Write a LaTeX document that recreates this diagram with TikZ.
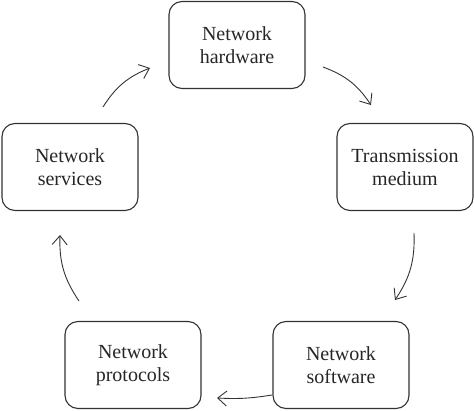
\documentclass[tikz,border=0pt]{standalone}
\usepackage{fontspec}
\setmainfont{Liberation Serif}
\usetikzlibrary{arrows.meta}

\begin{document}
\begin{tikzpicture}[x=1pt,y=1pt,
    blk/.style={draw=black!80, line width=1.1pt, rounded corners=13pt,
      minimum width=136pt, minimum height=87pt, align=center,
      font=\fontsize{20}{23}\selectfont, text=black!85},
    cyc/.style={draw=black!80, line width=0.9pt,
      -{Straight Barb[length=9pt,width=15pt,line width=0.9pt]}}]
    \useasboundingbox (0,0) rectangle (474,410);

    \node[blk] (hw) at (237,365) {Network\\hardware};
    \node[blk] (tm) at (405,243) {Transmission\\medium};
    \node[blk] (sw) at (341,45) {Network\\software};
    \node[blk] (pr) at (133,45) {Network\\protocols};
    \node[blk] (sv) at (70,243) {Network\\services};

    % free ends of the curved arrows
    \coordinate (svo) at (103,303);
    \coordinate (hwi) at (150,342);
    \coordinate (hwo) at (323,343);
    \coordinate (tmi) at (371,305);
    \coordinate (tmo) at (414,177);
    \coordinate (swi) at (395,110);
    \coordinate (swo) at (272,15);
    \coordinate (pri) at (217,12);
    \coordinate (pro) at (79,109);
    \coordinate (svi) at (60,175);

    \draw[cyc] (svo) to[bend left=18] (hwi);
    \draw[cyc] (hwo) to[bend left=18] (tmi);
    \draw[cyc] (tmo) to[bend left=18] (swi);
    \draw[cyc] (swo) to[bend left=6] (pri);
    \draw[cyc] (pro) to[bend left=18] (svi);
\end{tikzpicture}
\end{document}
